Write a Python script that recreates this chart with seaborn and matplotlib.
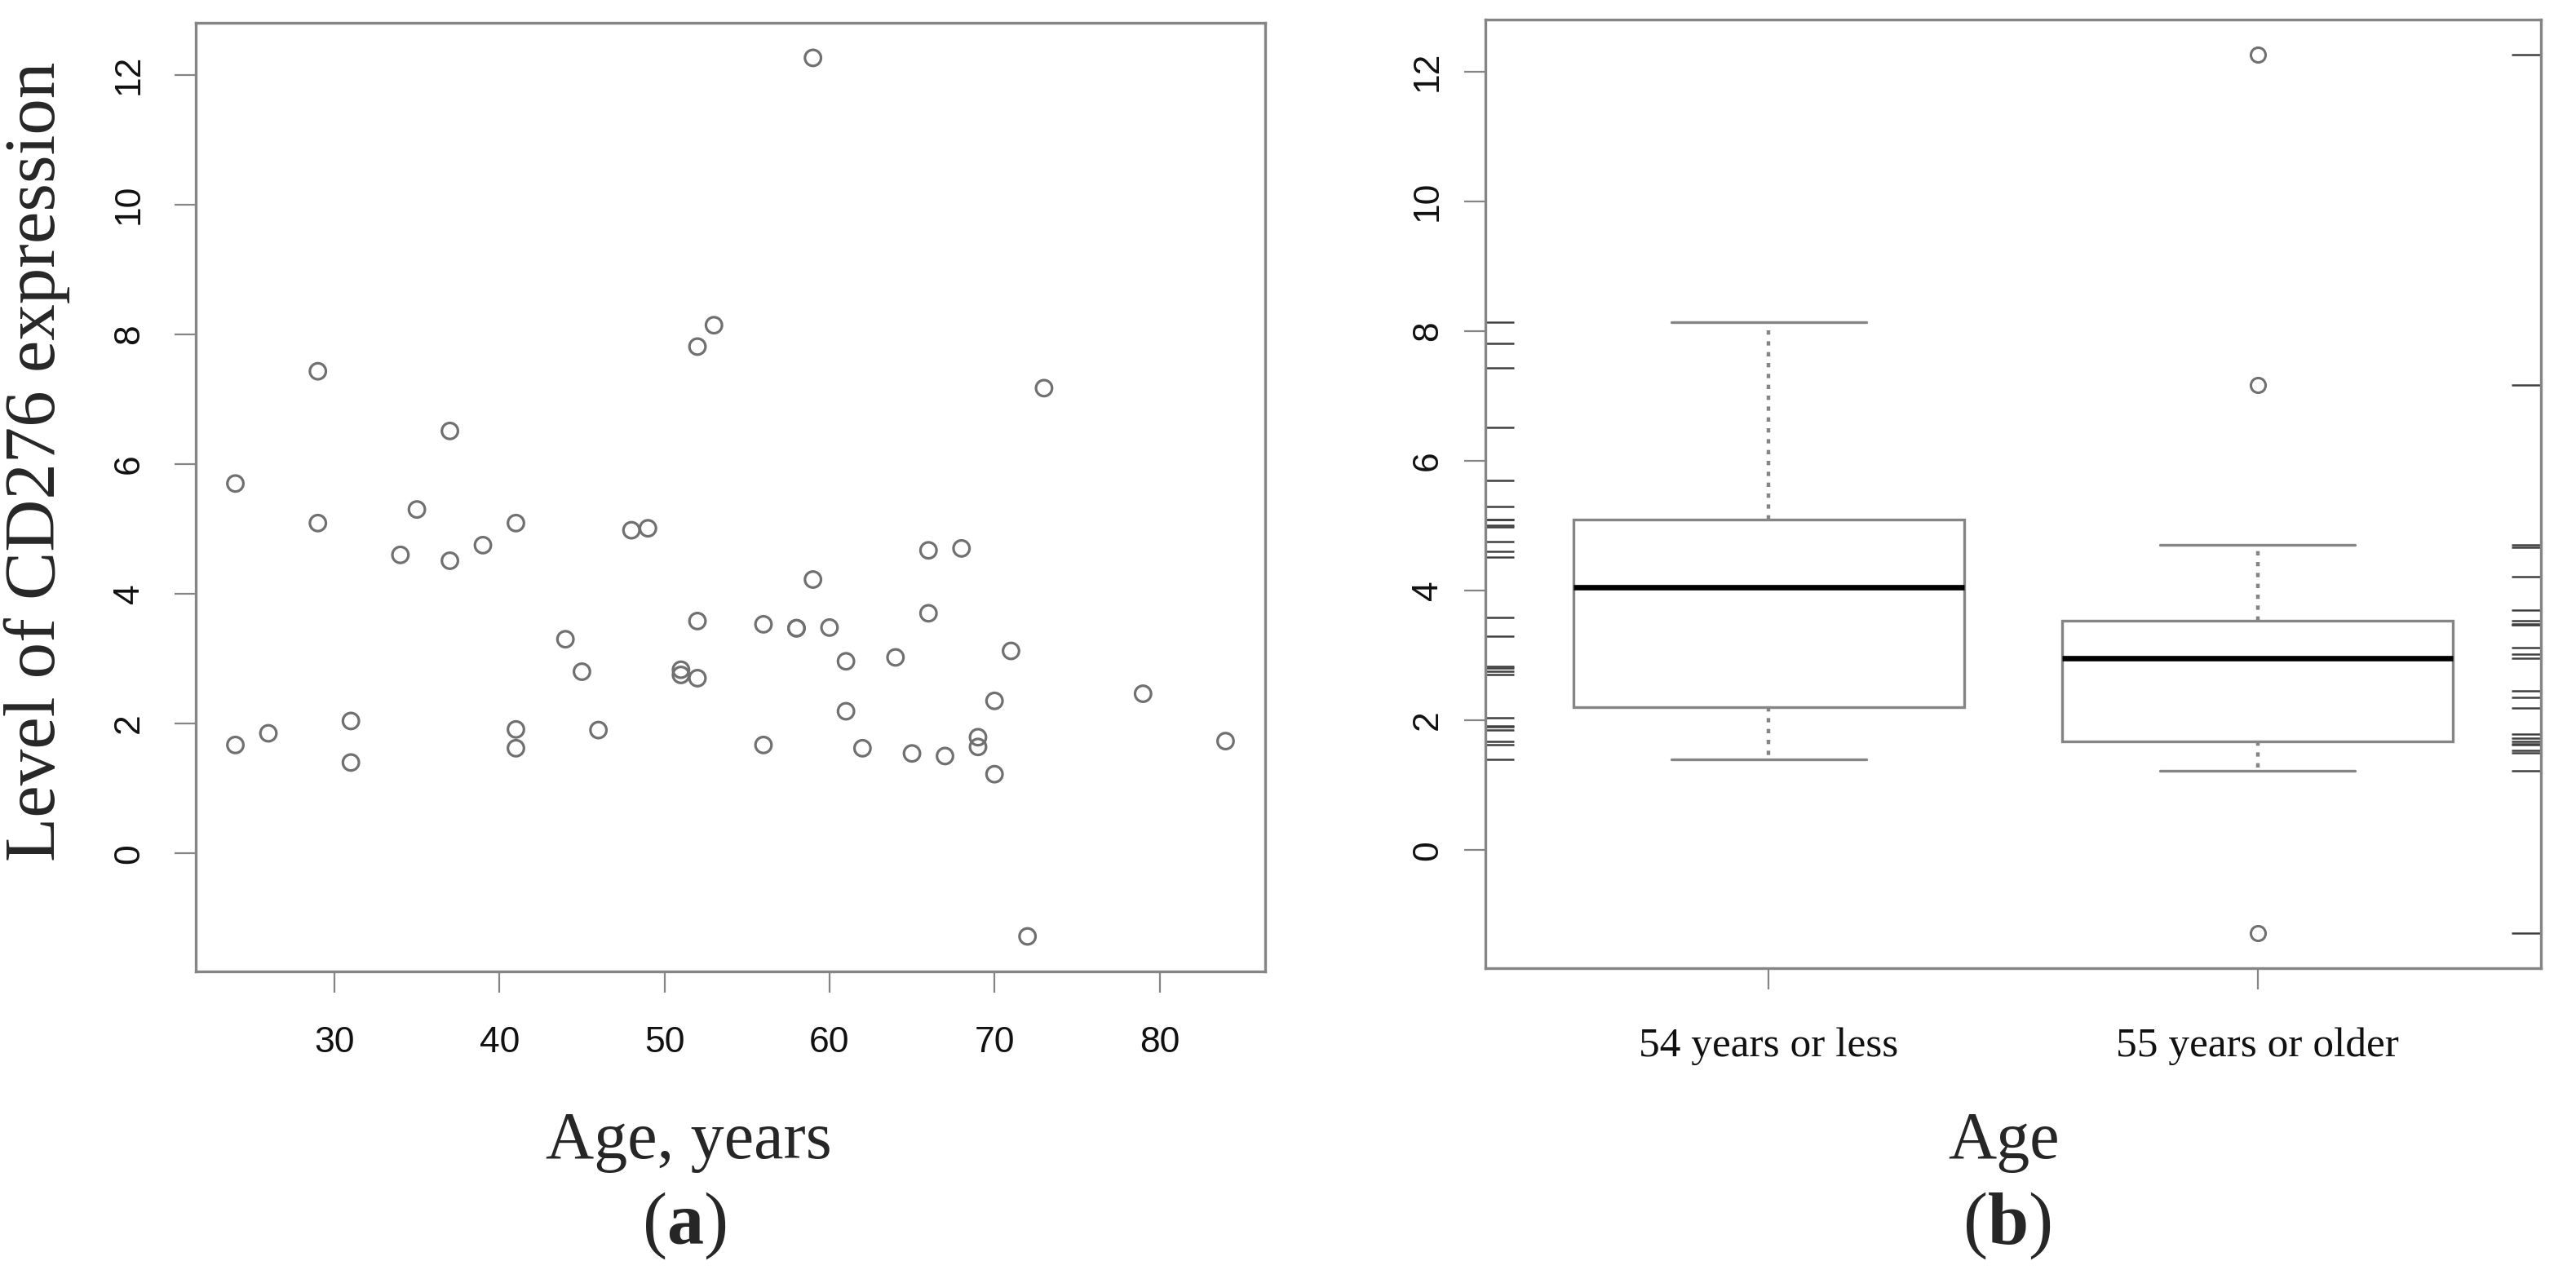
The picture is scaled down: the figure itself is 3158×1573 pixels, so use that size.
# Nivel de CD276 frente a la edad: (a) dispersión, (b) boxplot por grupo de edad
import numpy as np
import pandas as pd
import matplotlib
matplotlib.use('Agg')
import matplotlib.pyplot as plt
import seaborn as sns

# Edad (años) y nivel de expresión de CD276 (a)
age = [24, 24, 26, 29, 29, 31, 31, 34, 35, 37, 37, 39, 41, 41, 41, 44, 45, 46,
       48, 49, 51, 51, 52, 52, 52, 53,
       56, 56, 58, 58, 59, 59, 60, 61, 61, 62, 64, 65, 66, 66, 67, 68, 69, 69,
       70, 70, 71, 72, 73, 79, 84]
cd276 = [5.70, 1.67, 1.85, 7.43, 5.09, 2.04, 1.40, 4.60, 5.30, 6.51, 4.51, 4.75,
         5.09, 1.91, 1.62, 3.30, 2.80, 1.90, 4.98, 5.01, 2.83, 2.75, 7.81, 3.58,
         2.70, 8.14,
         3.53, 1.67, 3.47, 3.47, 12.26, 4.22, 3.48, 2.96, 2.19, 1.62, 3.02, 1.54,
         4.67, 3.70, 1.50, 4.70, 1.79, 1.64, 2.35, 1.22, 3.12, -1.28, 7.17, 2.46,
         1.73]
age_cut = 54
group_labels = ['54 years or less', '55 years or older']
x_ticks = [30, 40, 50, 60, 70, 80]
y_ticks = [0, 2, 4, 6, 8, 10, 12]

df = pd.DataFrame({'age': age, 'cd276': cd276})
df['group'] = np.where(df['age'] <= age_cut, group_labels[0], group_labels[1])

# Estilo general
sns.set_theme(style='white')
plt.rcParams['font.family'] = ['Liberation Sans', 'DejaVu Sans']
plt.rcParams['mathtext.fontset'] = 'custom'
plt.rcParams['mathtext.rm'] = 'Liberation Serif'
plt.rcParams['mathtext.bf'] = 'Liberation Serif:bold'

SERIF = ['Liberation Serif', 'DejaVu Serif']
FRAME = '#858585'
POINTS = '#707070'
RUG = '#404040'

fig = plt.figure(figsize=(31.58, 15.73), dpi=100)
W, H = 3158, 1573


def axes_px(left, top, right, bottom):
    '''Crea unos ejes a partir de su caja en píxeles de la figura'''
    return fig.add_axes([left / W, 1 - bottom / H,
                         (right - left) / W, (bottom - top) / H])


def frame(ax):
    for s in ax.spines.values():
        s.set_visible(True)
        s.set_color(FRAME)
        s.set_linewidth(2.4)
    ax.tick_params(direction='out', length=19, width=1.6, color=FRAME,
                   labelcolor='#111111', left=True, bottom=True)


ylim = (-1.82, 12.80)

# (a) Dispersión
ax1 = axes_px(240, 28, 1551, 1191)
sns.scatterplot(data=df, x='age', y='cd276', ax=ax1, s=200,
                facecolors='none', edgecolor=POINTS, linewidth=2.3)
frame(ax1)
ax1.set_xlim(21.6, 86.4)
ax1.set_ylim(*ylim)
ax1.set_xticks(x_ticks)
ax1.set_yticks(y_ticks)
ax1.tick_params(axis='x', labelsize=32, pad=29)
ax1.tick_params(axis='y', labelsize=32, pad=25)
plt.setp(ax1.get_yticklabels(), rotation=90, va='center')
ax1.set_xlabel('Age, years', family=SERIF, fontsize=59, va='baseline')
ax1.xaxis.set_label_coords(0.461, -0.197)
ax1.set_ylabel('Level of CD276 expression', family=SERIF, fontsize=64,
               va='baseline')
ax1.yaxis.set_label_coords(-0.132, 0.5376)

# (b) Boxplot por grupo de edad con rug a ambos lados
ax2 = axes_px(1821, 24, 3115, 1187)
sns.boxplot(data=df, x='group', y='cd276', order=group_labels, ax=ax2,
            width=0.8, color='white', linecolor=FRAME, linewidth=2.4,
            whis=1.5, fliersize=13,
            medianprops=dict(color='black', linewidth=4.8),
            whiskerprops=dict(linestyle=(0, (1.2, 1.8)), linewidth=3.2),
            flierprops=dict(marker='o', markerfacecolor='none',
                            markeredgecolor=POINTS, markeredgewidth=2.2))
young = df.loc[df['group'] == group_labels[0], 'cd276']
old = df.loc[df['group'] == group_labels[1], 'cd276']
sns.rugplot(y=young, ax=ax2, height=0.027, color=RUG, linewidth=1.8,
            expand_margins=False)
ax2.hlines(old, 0.972, 1.0, transform=ax2.get_yaxis_transform(),
           color=RUG, linewidth=1.8)
frame(ax2)
ax2.set_xlim(-0.58, 1.58)
ax2.set_ylim(*ylim)
ax2.set_yticks(y_ticks)
ax2.set_xticks([0, 1])
ax2.set_xticklabels(group_labels, family=SERIF, fontsize=37)
ax2.tick_params(axis='x', pad=33)
ax2.tick_params(axis='y', labelsize=32, pad=17)
plt.setp(ax2.get_yticklabels(), rotation=90, va='center')
ax2.set_xlabel('Age', family=SERIF, fontsize=59, va='baseline')
ax2.xaxis.set_label_coords(0.4915, -0.2003)
ax2.set_ylabel('')

# Letras de panel
fig.text(839 / W, 1 - 1525 / H, r'($\mathbf{a}$)', ha='center',
         va='baseline', fontsize=65, family=SERIF)
fig.text(2460 / W, 1 - 1525 / H, r'($\mathbf{b}$)', ha='center',
         va='baseline', fontsize=65, family=SERIF)

fig.savefig('out.png', dpi=100, facecolor='white')
